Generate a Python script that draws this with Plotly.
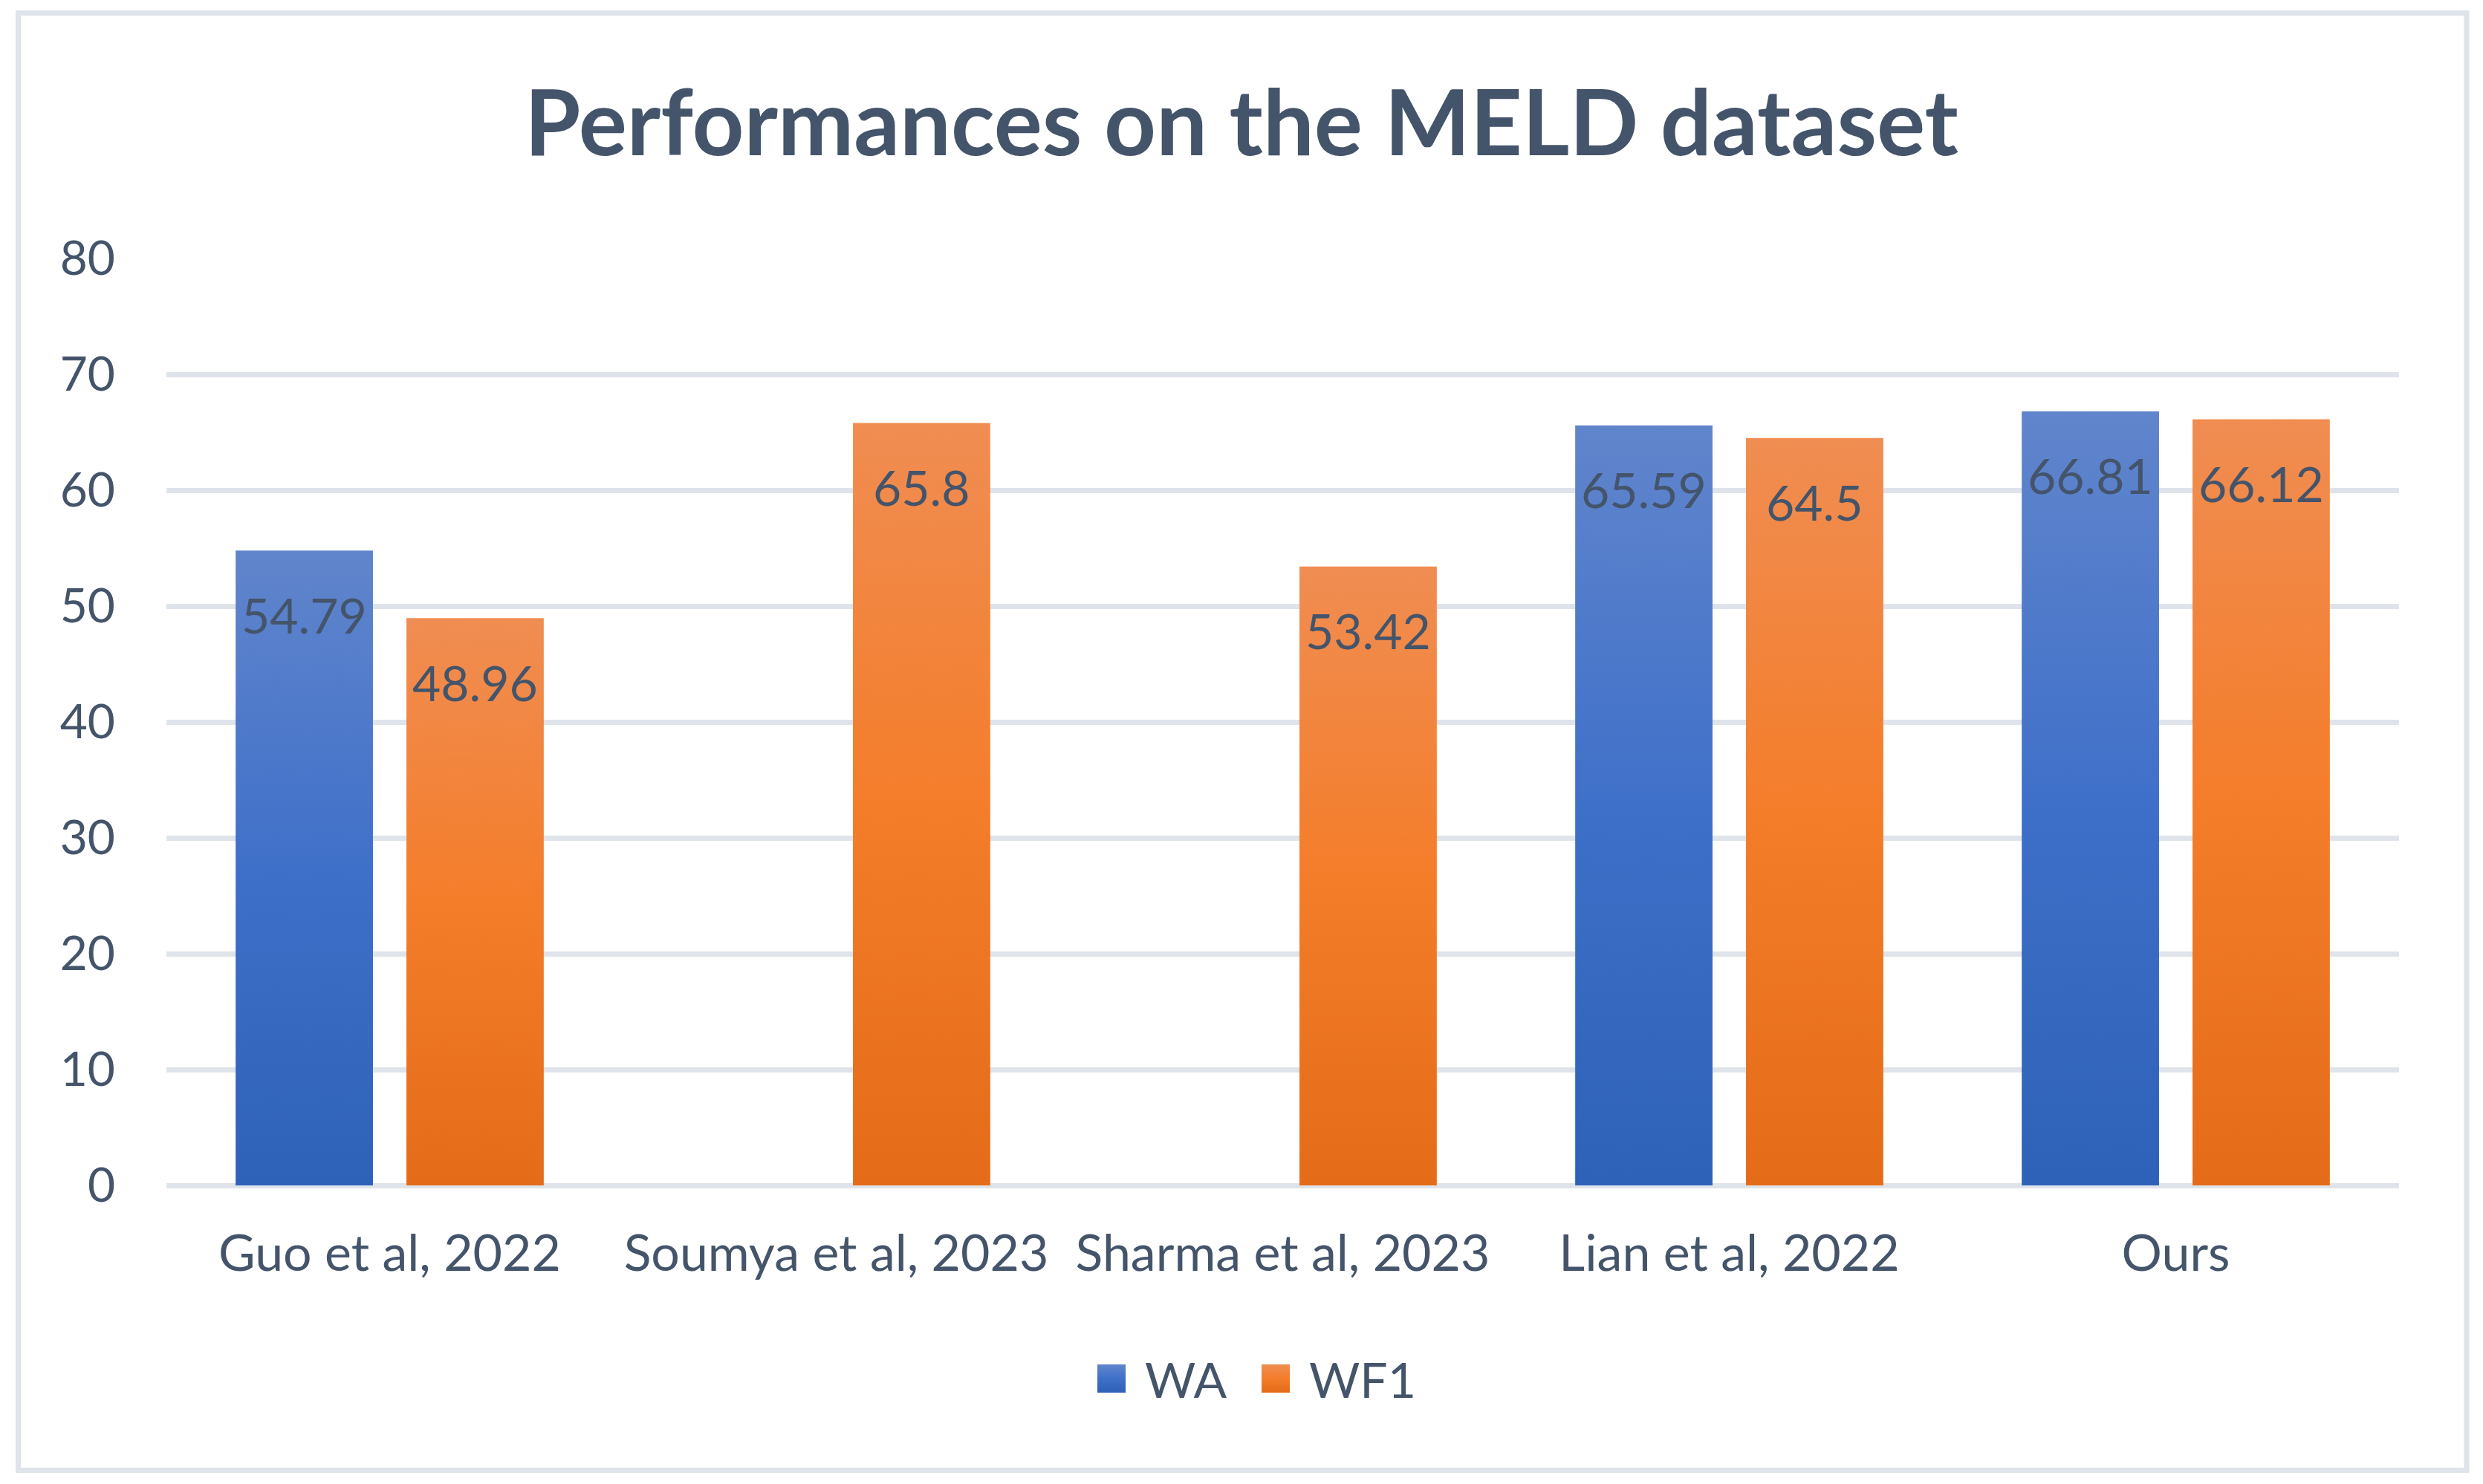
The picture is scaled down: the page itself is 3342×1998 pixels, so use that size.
import plotly.graph_objects as go

categories = ["Guo et al, 2022", "Soumya et al, 2023", "Sharma et al, 2023", "Lian et al, 2022", "Ours"]
wa_values = [54.79, None, None, 65.59, 66.81]
wf1_values = [48.96, 65.8, 53.42, 64.5, 66.12]
series_names = ["WA", "WF1"]
y_ticks = [0, 10, 20, 30, 40, 50, 60, 70, 80]

W, H = 3342, 1998
ML, MR, MT, MB = 224, 113, 348, 402
PW, PH = W - ML - MR, H - MT - MB
TEXT = "#44546A"
GRID = "#DFE3EA"
BLUE = "#4A75C6"      # rgb(74, 117, 198)
ORANGE = "#EE7C32"    # rgb(238, 124, 50)
FONT = "Lato"
BARGAP = 0.235
BARGROUPGAP = 0.196


def px_x(px):
    return (px - ML) / PW


def px_y(py):
    return (H - MB - py) / PH


fig = go.Figure()
fig.add_trace(go.Bar(x=categories, y=wa_values, name=series_names[0],
                     marker=dict(color=BLUE, line=dict(width=0))))
fig.add_trace(go.Bar(x=categories, y=wf1_values, name=series_names[1],
                     marker=dict(color=ORANGE, line=dict(width=0))))

# data labels (inside end)
off = (1 - BARGAP) / 4
for vals, sign in ((wa_values, -1), (wf1_values, 1)):
    for i, v in enumerate(vals):
        if v is None:
            continue
        fig.add_annotation(x=i + sign * off, y=v, xref="x", yref="y",
                           text=f"{v:g}", showarrow=False, yanchor="middle",
                           yshift=-86, font=dict(family=FONT, size=66, color=TEXT))

# custom legend
legend_items = [(series_names[0], BLUE, 1477, 1539), (series_names[1], ORANGE, 1698, 1760)]
ly = 1856
for name, col, sx, tx in legend_items:
    fig.add_shape(type="rect", xref="paper", yref="paper",
                  x0=px_x(sx), x1=px_x(sx + 38), y0=px_y(ly + 19), y1=px_y(ly - 19),
                  fillcolor=col, line=dict(width=0))
    fig.add_annotation(x=px_x(tx), y=px_y(ly), xref="paper", yref="paper", text=name,
                       showarrow=False, xanchor="left", yanchor="middle",
                       font=dict(family=FONT, size=66, color=TEXT))

# outer border
fig.add_shape(type="rect", xref="paper", yref="paper",
              x0=px_x(24.5), x1=px_x(3320), y0=px_y(1979.5), y1=px_y(17.5),
              line=dict(color=GRID, width=7), fillcolor="rgba(0,0,0,0)", layer="below")

fig.update_layout(
    width=W, height=H,
    paper_bgcolor="white", plot_bgcolor="white",
    margin=dict(l=ML, r=MR, t=MT, b=MB),
    barmode="group", bargap=BARGAP, bargroupgap=BARGROUPGAP,
    showlegend=False,
    title=dict(text="<b>Performances on the MELD dataset</b>", x=0.5, xanchor="center",
               y=1 - 166 / H, yanchor="middle", yref="container",
               font=dict(family=FONT, size=122, color=TEXT)),
    font=dict(family=FONT, color=TEXT),
)
fig.update_xaxes(showgrid=False, showline=False, ticks="", ticklabelstandoff=46,
                 tickfont=dict(family=FONT, size=68, color=TEXT))
fig.update_yaxes(range=[0, 80], tickvals=y_ticks, showgrid=True, gridcolor=GRID, gridwidth=7,
                 zeroline=True, zerolinecolor=GRID, zerolinewidth=7, showline=False,
                 ticks="", ticklabelstandoff=68,
                 tickfont=dict(family=FONT, size=64, color=TEXT))

# vertical gradient fills (light top, saturated middle, dark bottom), like the Office style
post_js = """
document.body.style.margin='0px';
document.body.style.overflow='hidden';
(function(){
  var ns='http://www.w3.org/2000/svg';
  var svg=document.querySelector('.main-svg');
  if(!svg) return;
  var defs=document.createElementNS(ns,'defs');
  function mk(id, stops){
    var g=document.createElementNS(ns,'linearGradient');
    g.setAttribute('id',id); g.setAttribute('x1','0'); g.setAttribute('y1','0');
    g.setAttribute('x2','0'); g.setAttribute('y2','1');
    stops.forEach(function(s){
      var st=document.createElementNS(ns,'stop');
      st.setAttribute('offset',s[0]); st.setAttribute('stop-color',s[1]);
      g.appendChild(st);
    });
    defs.appendChild(g);
  }
  mk('gBlue',[['0','#6185CC'],['0.5','#3F70C9'],['1','#2E61B8']]);
  mk('gOrange',[['0','#F08D52'],['0.5','#F47D2A'],['1','#E46C18']]);
  svg.insertBefore(defs, svg.firstChild);
  document.querySelectorAll('svg path').forEach(function(p){
    var f=(p.style.fill||'').replace(/\\s/g,'');
    if(f==='rgb(74,117,198)') p.style.fill='url(#gBlue)';
    if(f==='rgb(238,124,50)') p.style.fill='url(#gOrange)';
  });
})();
"""

fig.write_html("out.html", config={"displayModeBar": False}, post_script=post_js)
